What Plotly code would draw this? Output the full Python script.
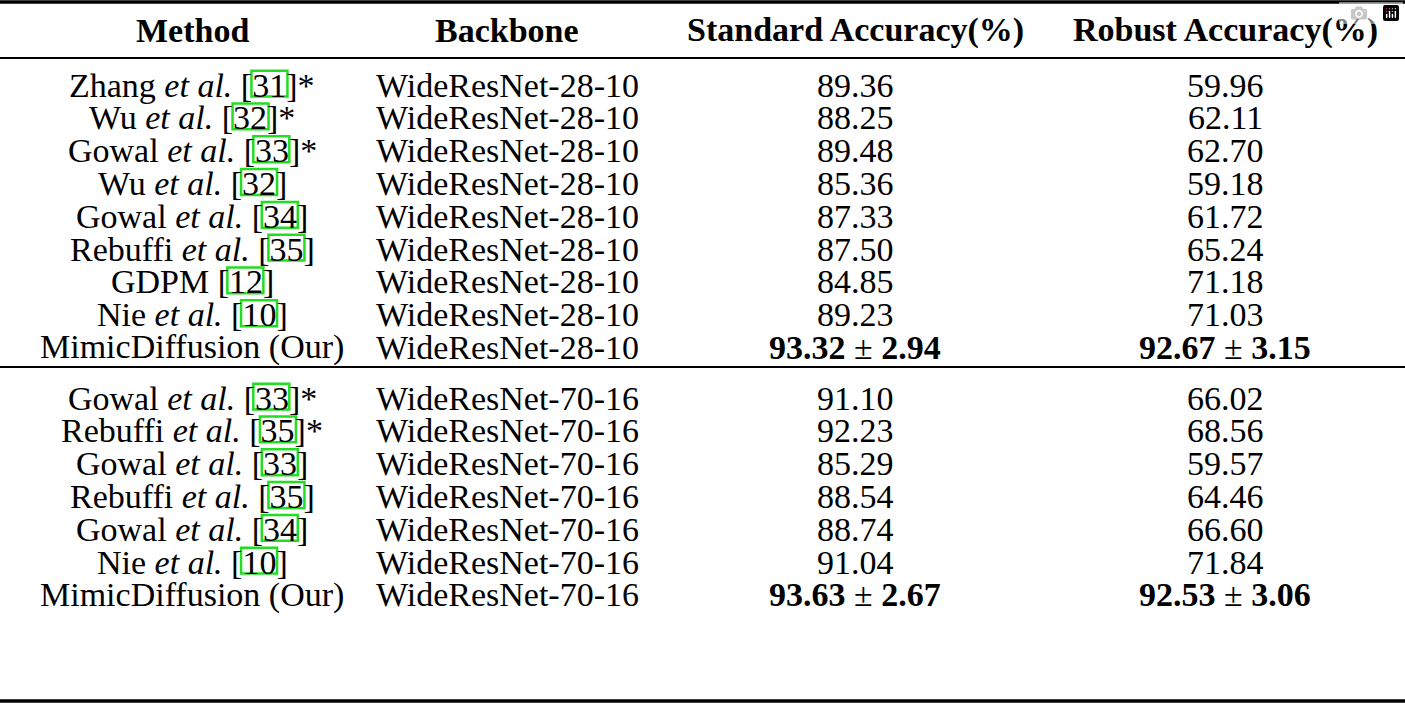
import plotly.graph_objects as go

# table content
headers = ["Method", "Backbone", "Standard Accuracy(%)", "Robust Accuracy(%)"]
# method = (name, citation, star)
methods_a = [("Zhang", "31", "*"), ("Wu", "32", "*"), ("Gowal", "33", "*"), ("Wu", "32", ""),
             ("Gowal", "34", ""), ("Rebuffi", "35", ""), ("GDPM", "12", ""), ("Nie", "10", ""),
             ("MimicDiffusion (Our)", "", "")]
backbone_a = ["WideResNet-28-10"] * 9
std_a = ["89.36", "88.25", "89.48", "85.36", "87.33", "87.50", "84.85", "89.23", ("93.32", "2.94")]
rob_a = ["59.96", "62.11", "62.70", "59.18", "61.72", "65.24", "71.18", "71.03", ("92.67", "3.15")]

methods_b = [("Gowal", "33", "*"), ("Rebuffi", "35", "*"), ("Gowal", "33", ""), ("Rebuffi", "35", ""),
             ("Gowal", "34", ""), ("Nie", "10", ""), ("MimicDiffusion (Our)", "", "")]
backbone_b = ["WideResNet-70-16"] * 7
std_b = ["91.10", "92.23", "85.29", "88.54", "88.74", "91.04", ("93.63", "2.67")]
rob_b = ["66.02", "68.56", "59.57", "64.46", "66.60", "71.84", ("92.53", "3.06")]

W, H = 1405, 703
FS = 34
FONT = "Liberation Serif"
col_x = [192, 507, 855, 1225]
row_h = 32.8
header_y = 30
rows_a_y0 = 85
rows_b_y0 = 398

# Times-compatible advance widths (per 1000 em)
REG = {' ': 250, '[': 333, ']': 333, '*': 500, '.': 250, '(': 333, ')': 333,
       'Z': 611, 'h': 500, 'a': 444, 'n': 500, 'g': 500, 'W': 944, 'u': 500, 'G': 722,
       'o': 500, 'w': 722, 'l': 278, 'R': 667, 'e': 444, 'b': 500, 'f': 333, 'i': 278,
       'D': 722, 'P': 556, 'M': 889, 'N': 722, 'c': 444, 'r': 333, 's': 389, 'm': 778,
       'O': 722, 'd': 500, 'I': 333}
ITA = {'e': 444, 't': 278, ' ': 250, 'a': 500, 'l': 278, '.': 250}


def width(s, table):
    return sum(table.get(ch, 500) for ch in s) * FS / 1000.0


fig = go.Figure()
ann = []
shapes = []

for x, h in zip(col_x, headers):
    ann.append(dict(x=x, y=header_y, text="<b>%s</b>" % h))


def cell_num(v):
    if isinstance(v, tuple):
        return "<b>%s</b> ± <b>%s</b>" % v
    return v


def add_block(methods, backbones, stds, robs, y0):
    for i, (m, b, s, r) in enumerate(zip(methods, backbones, stds, robs)):
        y = y0 + i * row_h
        name, cite, star = m
        if cite:
            if name in ("GDPM",):
                text = "%s [%s]%s" % (name, cite, star)
                pre_w = width(name + " [", REG)
            else:
                text = "%s <i>et al.</i> [%s]%s" % (name, cite, star)
                pre_w = width(name + " ", REG) + width("et al.", ITA) + width(" [", REG)
            total = pre_w + width(cite + "]" + star, REG)
            x_left = col_x[0] - total / 2
            cx0 = x_left + pre_w
            cx1 = cx0 + width(cite, REG)
            shapes.append(dict(type="rect", xref="x", yref="y", x0=cx0 - 1, x1=cx1 + 1,
                               y0=y - 0.42 * FS, y1=y + 0.34 * FS,
                               line=dict(color="#22dd22", width=2.5)))
        else:
            text = name
        ann.append(dict(x=col_x[0], y=y, text=text))
        ann.append(dict(x=col_x[1], y=y, text=b))
        ann.append(dict(x=col_x[2], y=y, text=cell_num(s)))
        ann.append(dict(x=col_x[3], y=y, text=cell_num(r)))


add_block(methods_a, backbone_a, std_a, rob_a, rows_a_y0)
add_block(methods_b, backbone_b, std_b, rob_b, rows_b_y0)

for a in ann:
    a.update(xref="x", yref="y", showarrow=False, xanchor="center", yanchor="middle",
             font=dict(family=FONT, size=FS, color="black"))

for yy, lw in [(2, 3.5), (58, 1.8), (367, 1.8), (701, 3.5)]:
    shapes.append(dict(type="line", xref="x", yref="y", x0=0, x1=W, y0=yy, y1=yy,
                       line=dict(color="black", width=lw)))

fig.update_layout(
    width=W, height=H, margin=dict(l=0, r=0, t=0, b=0),
    paper_bgcolor="white", plot_bgcolor="white",
    xaxis=dict(range=[0, W], visible=False, fixedrange=True),
    yaxis=dict(range=[H, 0], visible=False, fixedrange=True),
    annotations=ann, shapes=shapes, showlegend=False,
)
fig.write_html("out.html", post_script="document.body.style.margin='0';")
